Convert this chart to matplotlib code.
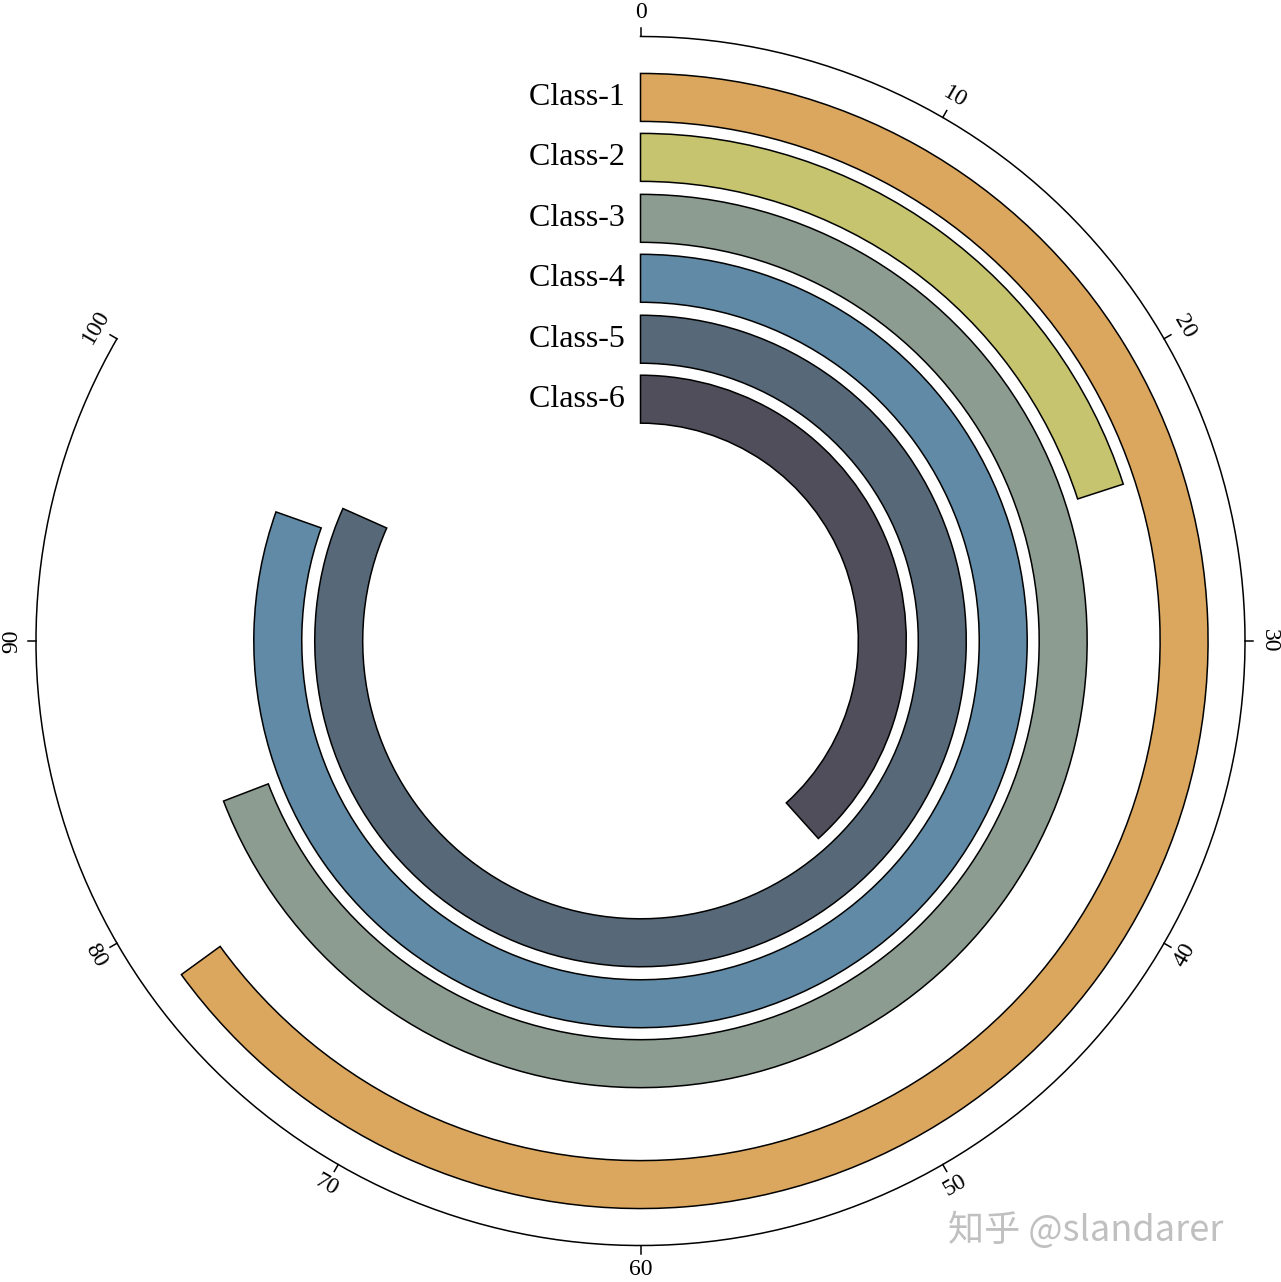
import numpy as np
import matplotlib
matplotlib.use('Agg')
import matplotlib.pyplot as plt

plt.rcParams['font.family'] = ['Liberation Serif']

classes = ['Class-1', 'Class-2', 'Class-3', 'Class-4', 'Class-5', 'Class-6']
values = [78, 24, 83, 96.5, 98, 46]
colors = ['#dba65e', '#c6c46e', '#8c9c91', '#618aa6', '#576979', '#4f4e5a']
ticks = [0, 10, 20, 30, 40, 50, 60, 70, 80, 90, 100]

deg_per_unit = 3.0
r_outer = [544, 484, 423, 363, 302, 242]   # bar centre radii (pixels)
bar_h = 48
rim = 605

fig = plt.figure(figsize=(12.81, 12.82), dpi=100)
ax = fig.add_axes([0, 0, 1, 1], projection='polar')
ax.set_theta_zero_location('N')
ax.set_theta_direction(-1)
ax.set_ylim(0, 641)
ax.axis('off')

for c, v, col, r in zip(classes, values, colors, r_outer):
    ax.barh(r, np.deg2rad(v * deg_per_unit), left=0, height=bar_h,
            color=col, edgecolor='black', linewidth=1.1, align='center')
    ax.text(0, r, c + '  ', fontsize=23, ha='right', va='center',
            rotation_mode='anchor')

# scale arc
th = np.linspace(0, np.deg2rad(100 * deg_per_unit), 400)
ax.plot(th, np.full_like(th, rim), color='black', lw=1.1)
for t in ticks:
    b = t * deg_per_unit
    a = np.deg2rad(b)
    ax.plot([a, a], [rim, rim + 8], color='black', lw=1.1)
    rot = -b
    if 90 < b < 270:
        rot += 180
    ax.text(a, rim + 24, str(t), fontsize=17, ha='center', va='center',
            rotation=rot, rotation_mode='anchor')

fig.text(0.955, 0.04, '知乎 @slandarer', fontsize=26, color='#c0c0c0',
         ha='right', va='center', family=['Noto Sans CJK SC', 'DejaVu Sans'])

fig.savefig('out.png', dpi=100)
